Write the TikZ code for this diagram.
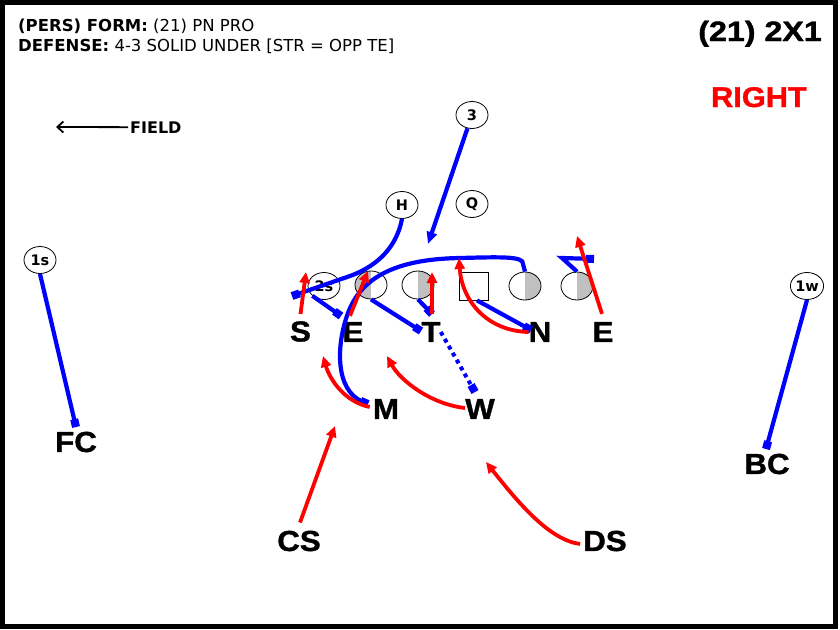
\documentclass[tikz,border=0pt]{standalone}
\usepackage{fontspec}
\setmainfont{DejaVu Sans}
\newfontfamily\arialfam{Liberation Sans}
\newfontfamily\heavyfam{Liberation Sans Bold}[FakeBold=1.2,FakeStretch=1.08]
\newfontfamily\widefam{Liberation Sans Bold}[FakeBold=1.3,FakeStretch=1.15]
\usetikzlibrary{arrows.meta,shapes.geometric}
\definecolor{rblue}{RGB}{0,0,255}
\definecolor{rred}{RGB}{255,0,0}
\definecolor{lgray}{RGB}{192,192,192}
\begin{document}
\begin{tikzpicture}[x=1pt,y=-1pt,
  every node/.style={inner sep=0pt},
  player/.style={ellipse,draw=black,line width=0.8pt,fill=white,minimum width=32pt,minimum height=27pt,font=\bfseries\fontsize{14.5}{14.5}\selectfont},
  linemanR/.style={player,minimum height=28pt,path picture={\fill[lgray] (path picture bounding box.north) rectangle (path picture bounding box.south east);}},
  linemanL/.style={player,minimum height=28pt,path picture={\fill[lgray] (path picture bounding box.north) rectangle (path picture bounding box.south west);}},
  cbox/.style={rectangle,draw=black,line width=0.8pt,fill=white,minimum width=29pt,minimum height=28pt},
  deflabel/.style={font=\heavyfam\fontsize{29}{29}\selectfont},
  broute/.style={draw=rblue,line width=4.2pt,-{Square[length=8pt,width=8pt]}},
  bdotted/.style={draw=rblue,line width=4pt,dash pattern=on 4pt off 4pt,-{Square[length=8pt,width=8pt]}},
  barrow/.style={draw=rblue,line width=4.2pt,-{Triangle[length=12pt,width=10pt]}},
  rroute/.style={draw=rred,line width=3.8pt,-{Triangle[length=11pt,width=10pt]}},
  hdr/.style={anchor=base west,font=\fontsize{16.5}{18}\selectfont}
]
\useasboundingbox (0,0) rectangle (840,629);
\fill[white] (0,0) rectangle (840,629);
\draw[line width=5pt] (2.5,2.5) rectangle (835.5,626);

% header
\node[hdr] (hdr1) at (18,31.5) {\textbf{(PERS) FORM:} (21) PN PRO};
\node[hdr] (hdr2) at (18,51) {\textbf{DEFENSE:} 4-3 SOLID UNDER [STR = OPP TE]};
\node[anchor=base east,font=\widefam\fontsize{28}{28}\selectfont] (title) at (822,41) {(21) 2X1};
\node[anchor=base east,font=\heavyfam\fontsize{28.5}{29}\selectfont,text=rred] (side) at (807,107) {RIGHT};

% field indicator
\node[anchor=base west,font=\bfseries\fontsize{16}{16}\selectfont] (field) at (130,133) {FIELD};
\coordinate (fieldtip) at (56,127);
\draw[line width=1.8pt,-{Straight Barb[length=6pt,width=11pt]}] ([xshift=-2pt]field.west) -- (fieldtip);

% offense
\node[player] (p3) at (472,115) {3};
\node[player] (pH) at (402,205) {H};
\node[player] (pQ) at (472,204) {Q};
\node[player] (p1s) at (40,260) {1s};
\node[player] (p1w) at (807,286) {1w};
\node[player] (p2s) at (324,286) {2s};
\node[linemanL] (lg) at (371,285) {};
\node[linemanR] (lt) at (418,285) {};
\node[cbox] (ctr) at (474,286) {};
\node[linemanR] (rg) at (525,286) {};
\node[linemanR] (rt) at (577,286) {};

% defense
\node[deflabel] (dS) at (300.5,331.5) {S};
\node[deflabel] (dE) at (353,332) {E};
\node[deflabel] (dT) at (431,332) {T};
\node[deflabel] (dN) at (540,332) {N};
\node[deflabel] (dE2) at (603,332) {E};
\node[deflabel] (dM) at (386,409) {M};
\node[deflabel] (dW) at (480,409) {W};
\node[deflabel] (dFC) at (76,442) {FC};
\node[deflabel] (dBC) at (767,464) {BC};
\node[deflabel] (dCS) at (299,541) {CS};
\node[deflabel] (dDS) at (605,541) {DS};

% blue route end points
\coordinate (r3end) at (428,244);
\coordinate (hend) at (292,296);
\coordinate (s2end) at (341,316);
\coordinate (lgend) at (421,331);
\coordinate (ltend) at (432,314);
\coordinate (ctrend) at (531,330);
\coordinate (rgend) at (368,404);
\coordinate (rtbend) at (562,258);
\coordinate (rtend) at (594,259);
\coordinate (wdot) at (475,392);
\coordinate (fcend) at (76,427);
\coordinate (bcend) at (766,449);

% blue routes
\draw[barrow] (p3) -- (r3end);
\draw[broute] (pH.south) .. controls (397,245) and (380,265) .. (350,276) -- (hend);
\draw[broute] (p2s.south west) -- (s2end);
\draw[broute] (lg.south) -- (lgend);
\draw[broute] (lt.south) -- (ltend);
\draw[broute] ([xshift=3pt]ctr.south) -- (ctrend);
\draw[broute] (rg.north) -- (523,264) .. controls (524,256) and (500,257) .. (460,258)
   .. controls (400,259) and (362,275) .. (348,313)
   .. controls (336,345) and (335,390) .. (rgend);
\draw[broute] (rt.north) -- (rtbend) -- (rtend);
\draw[bdotted] (dT.east) -- (wdot);
\draw[broute] (p1s.south) -- (fcend);
\draw[broute] (p1w.south) -- (bcend);

% red end points
\coordinate (sTip) at (306,272);
\coordinate (eTip) at (368,271);
\coordinate (tTip) at (432,272);
\coordinate (nTip) at (459,258);
\coordinate (e2Tip) at (577,236);
\coordinate (mTip) at (323,356);
\coordinate (wTip) at (387,356);
\coordinate (csTip) at (335,426);
\coordinate (dsTip) at (486,462);

% red routes
\draw[rroute] ([yshift=7pt]dS.north) -- (sTip);
\draw[rroute] ([shift={(-3pt,6pt)}]dE.north) -- (eTip);
\draw[rroute] ([shift={(1pt,8pt)}]dT.north) -- (tTip);
\draw[rroute] (dN.west) .. controls (488,331) and (462,302) .. (nTip);
\draw[rroute] ([shift={(-1pt,8pt)}]dE2.north) -- (e2Tip);
\draw[rroute] ([shift={(-3pt,2pt)}]dM.west) .. controls (345,402) and (330,380) .. (mTip);
\draw[rroute] ([yshift=1pt]dW.west) .. controls (430,404) and (400,380) .. (wTip);
\draw[rroute] ([shift={(1pt,8pt)}]dCS.north) -- (csTip);
\draw[rroute] ([shift={(-3pt,-3pt)}]dDS.west) .. controls (550,540) and (520,505) .. (dsTip);
\end{tikzpicture}
\end{document}
